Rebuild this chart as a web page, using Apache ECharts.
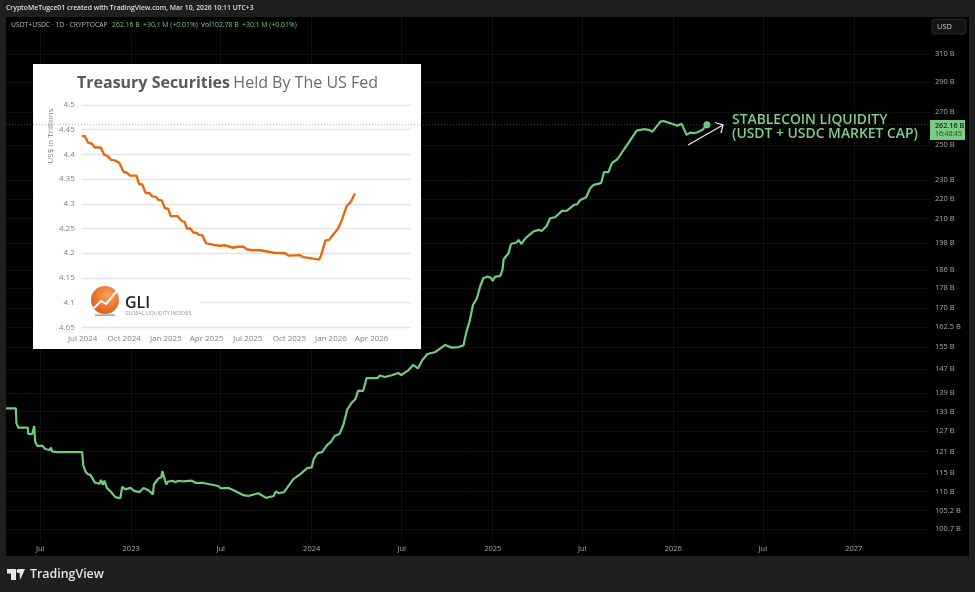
<!DOCTYPE html>
<html>
<head>
<meta charset="utf-8">
<title>Stablecoin liquidity vs Treasury securities</title>
<script src="https://cdn.jsdelivr.net/npm/echarts@6/dist/echarts.min.js"></script>
<style>
html, body { margin: 0; padding: 0; background: #1f1f1f; }
#chart { width: 975px; height: 592px; }
</style>
</head>
<body>
<div id="chart"></div>
<script>
// USDT+USDC market cap, billions
var capDates = ['2022-04-23','2022-05-13','2022-05-14','2022-05-18','2022-06-06','2022-06-07','2022-06-15','2022-06-19','2022-06-21','2022-06-25','2022-07-06','2022-07-11','2022-07-20','2022-07-23','2022-07-25','2022-08-04','2022-09-24','2022-09-26','2022-10-01','2022-10-05','2022-10-11','2022-10-20','2022-10-29','2022-11-01','2022-11-05','2022-11-08','2022-11-13','2022-11-21','2022-11-30','2022-12-03','2022-12-10','2022-12-14','2022-12-20','2022-12-31','2023-01-07','2023-01-18','2023-01-26','2023-02-05','2023-02-14','2023-02-16','2023-02-25','2023-03-03','2023-03-05','2023-03-09','2023-03-13','2023-03-17','2023-03-26','2023-03-31','2023-04-07','2023-04-17','2023-05-04','2023-05-12','2023-05-27','2023-06-26','2023-07-01','2023-07-17','2023-07-27','2023-08-16','2023-08-26','2023-09-15','2023-10-01','2023-10-16','2023-10-21','2023-10-26','2023-11-06','2023-11-25','2023-12-09','2023-12-23','2024-01-01','2024-01-05','2024-01-13','2024-01-22','2024-02-01','2024-02-09','2024-02-17','2024-02-26','2024-03-05','2024-03-13','2024-03-22','2024-03-29','2024-04-02','2024-04-04','2024-04-14','2024-04-21','2024-05-02','2024-05-05','2024-05-13','2024-05-18','2024-05-28','2024-06-11','2024-06-24','2024-06-30','2024-07-15','2024-07-24','2024-07-28','2024-08-03','2024-08-11','2024-08-22','2024-09-07','2024-09-27','2024-10-10','2024-10-24','2024-11-03','2024-11-08','2024-11-16','2024-11-22','2024-11-30','2024-12-07','2024-12-13','2024-12-20','2024-12-28','2025-01-01','2025-01-06','2025-01-16','2025-01-21','2025-01-23','2025-02-02','2025-02-07','2025-02-19','2025-02-22','2025-02-28','2025-03-08','2025-03-24','2025-04-04','2025-04-10','2025-04-20','2025-04-27','2025-05-07','2025-05-21','2025-05-31','2025-06-15','2025-06-21','2025-06-27','2025-07-09','2025-07-17','2025-07-24','2025-08-08','2025-08-14','2025-08-23','2025-08-30','2025-09-10','2025-10-02','2025-10-19','2025-11-02','2025-11-12','2025-11-20','2025-12-06','2025-12-12','2026-01-01','2026-01-09','2026-01-18','2026-01-28','2026-02-04','2026-02-10','2026-02-18','2026-03-01','2026-03-10'];
var capValues = [134.0,134.0,129.4,128.0,128.0,126.1,126.1,128.5,123.8,122.6,122.6,121.7,121.4,122.1,121.0,120.8,120.8,117.2,115.3,114.7,114.4,112.4,112.1,113.1,111.8,112.9,111.0,110.0,108.6,108.9,108.3,111.3,110.6,111.0,110.2,109.9,111.0,110.4,109.3,111.9,113.5,113.8,115.5,115.5,111.9,112.7,112.9,112.5,112.9,112.7,112.9,112.3,112.3,111.5,110.9,111.0,110.4,109.1,108.9,109.6,108.4,108.9,110.1,109.6,109.9,113.3,114.7,116.3,116.5,118.8,120.5,120.8,122.8,123.8,125.6,126.1,128.8,133.7,135.8,136.9,136.7,139.7,139.6,143.9,143.9,144.4,143.9,144.8,144.3,144.9,145.7,145.0,146.7,148.5,148.5,147.3,150.0,152.4,153.1,155.7,154.7,154.9,155.6,160.0,165.2,171.1,173.9,179.1,182.3,183.0,182.6,181.1,183.0,183.2,186.2,190.7,193.4,197.7,198.5,199.6,197.7,200.4,203.6,204.4,203.9,206.3,210.1,210.6,213.8,213.9,217.0,217.2,219.4,220.8,225.6,227.4,228.3,234.3,234.3,239.4,241.6,251.0,258.5,259.4,259.0,257.9,264.1,264.5,262.5,261.6,262.7,255.9,257.3,257.0,257.4,259.0,262.16];
var lastCap = 262.16;

var yTickValues = [100.7,105.2,110,115,121,127,133,139,147,155,162.5,170,178,186,198,210,220,230,250,270,290,310];
var xTickDates = ['2022-07-01','2023-01-01','2023-07-01','2024-01-01','2024-07-01','2025-01-01','2025-07-01','2026-01-01','2026-07-01','2027-01-01'];
var xTickLabels = ['Jul','2023','Jul','2024','Jul','2025','Jul','2026','Jul','2027'];

// Treasury securities held by the Fed, US$ trillions
var fedDates = ['2024-06-29','2024-07-06','2024-07-13','2024-07-21','2024-07-28','2024-08-10','2024-08-18','2024-08-25','2024-09-02','2024-09-10','2024-09-20','2024-09-23','2024-09-30','2024-10-05','2024-10-14','2024-10-28','2024-11-03','2024-11-10','2024-11-17','2024-11-25','2024-12-02','2024-12-10','2024-12-15','2024-12-23','2024-12-30','2025-01-06','2025-01-12','2025-01-27','2025-02-05','2025-02-11','2025-02-17','2025-02-24','2025-03-03','2025-03-10','2025-03-16','2025-03-23','2025-03-31','2025-04-12','2025-04-20','2025-05-01','2025-05-12','2025-05-30','2025-06-07','2025-06-21','2025-06-29','2025-07-10','2025-07-28','2025-08-16','2025-08-27','2025-09-22','2025-09-29','2025-10-25','2025-11-01','2025-11-16','2025-12-06','2025-12-10','2025-12-20','2025-12-28','2026-01-06','2026-01-17','2026-01-25','2026-02-05','2026-02-14','2026-02-23'];
var fedValues = [4.437,4.437,4.424,4.422,4.414,4.414,4.399,4.397,4.389,4.388,4.383,4.382,4.364,4.364,4.357,4.357,4.340,4.339,4.322,4.322,4.315,4.314,4.308,4.307,4.291,4.290,4.275,4.275,4.265,4.264,4.250,4.250,4.242,4.241,4.237,4.236,4.220,4.218,4.216,4.215,4.216,4.211,4.213,4.213,4.208,4.206,4.206,4.203,4.201,4.200,4.195,4.196,4.192,4.190,4.187,4.195,4.226,4.227,4.238,4.250,4.267,4.296,4.304,4.321];
var fedTickDates = ['2024-07-01','2024-10-01','2025-01-01','2025-04-01','2025-07-01','2025-10-01','2026-01-01','2026-04-01'];
var fedTickLabels = ['Jul 2024','Oct 2024','Jan 2025','Apr 2025','Jul 2025','Oct 2025','Jan 2026','Apr 2026'];

var GREEN = '#72cb7d';
var AXIS_TEXT = '#a8a8a8';
var INSET_TEXT = '#7f7f7f';

function toTime(s) {
    var p = s.split('-');
    return new Date(+p[0], +p[1] - 1, +p[2]).getTime();
}

function pairs(dates, values) {
    return dates.map(function (d, i) {
        return [toTime(d), values[i]];
    });
}

function labelFor(dates, labels) {
    return function (value) {
        for (var i = 0; i < dates.length; i++) {
            if (toTime(dates[i]) === value) return labels[i];
        }
        return '';
    };
}

function label(x, y, text, color, size, weight, z) {
    return {
        type: 'text', x: x, y: y, z: z || 2, silent: true,
        style: {
            text: text, fill: color, fontSize: size, fontWeight: weight || 'normal',
            fontFamily: 'Open Sans', verticalAlign: 'middle'
        }
    };
}

var chart = echarts.init(document.getElementById('chart'), null, { renderer: 'canvas' });

chart.setOption({
    animation: false,
    backgroundColor: '#1f1f1f',
    grid: [
        { left: 6, right: 46, top: 17, bottom: 51 },
        { left: 81.7, right: 564, top: 105, bottom: 264.7 }
    ],
    xAxis: [{
        // timestamps on a value axis, time axis chokes on customValues
        type: 'value',
        gridIndex: 0,
        min: toTime('2022-04-23'),
        max: toTime('2027-06-02'),
        z: 1,
        axisLine: { show: false },
        axisTick: { show: false, customValues: xTickDates.map(toTime) },
        axisLabel: {
            customValues: xTickDates.map(toTime),
            formatter: labelFor(xTickDates, xTickLabels),
            color: AXIS_TEXT, fontSize: 7.5, fontFamily: 'Open Sans', margin: 4,
            hideOverlap: false
        },
        splitLine: { show: true, lineStyle: { color: '#101010', width: 1 } }
    }, {
        type: 'value',
        gridIndex: 1,
        min: toTime('2024-06-29'),
        max: toTime('2026-06-27'),
        z: 10,
        axisLine: { show: false },
        axisTick: { show: false },
        axisLabel: {
            customValues: fedTickDates.map(toTime),
            formatter: labelFor(fedTickDates, fedTickLabels),
            color: INSET_TEXT, fontSize: 8, fontFamily: 'Open Sans', margin: 7,
            hideOverlap: false
        },
        splitLine: { show: false }
    }],
    yAxis: [{
        type: 'log',
        gridIndex: 0,
        position: 'right',
        min: 97.89,
        max: 338.3,
        z: 1,
        axisLine: { show: false },
        axisTick: { show: false, customValues: yTickValues },
        axisLabel: {
            customValues: yTickValues,
            formatter: function (v) { return v + ' B'; },
            color: AXIS_TEXT, fontSize: 7.5, fontFamily: 'Open Sans', margin: 6
        },
        splitLine: { show: true, lineStyle: { color: '#101010', width: 1 } }
    }, {
        type: 'value',
        gridIndex: 1,
        min: 4.05,
        max: 4.5,
        interval: 0.05,
        z: 10,
        axisLine: { show: false },
        axisTick: { show: false },
        axisLabel: {
            formatter: function (v) { return String(+v.toFixed(2)); },
            color: INSET_TEXT, fontSize: 8, fontFamily: 'Open Sans', margin: 7
        },
        splitLine: { show: true, lineStyle: { color: '#e4e4e4', width: 1.3 } }
    }],
    series: [{
        name: 'USDT+USDC',
        type: 'line',
        xAxisIndex: 0,
        yAxisIndex: 0,
        z: 3,
        symbol: 'none',
        lineStyle: { color: GREEN, width: 2.2 },
        data: pairs(capDates, capValues),
        markPoint: {
            symbol: 'circle',
            symbolSize: 7,
            silent: true,
            label: { show: false },
            itemStyle: { color: GREEN },
            data: [{ coord: [toTime(capDates[capDates.length - 1]), lastCap] }]
        }
    }, {
        name: 'Last price',
        type: 'line',
        xAxisIndex: 0,
        yAxisIndex: 0,
        z: 12,
        symbol: 'none',
        lineStyle: { color: '#4e8f56', width: 0.8, type: [1, 2], opacity: 0.7 },
        data: [[toTime('2022-04-23'), lastCap], [toTime('2027-06-02'), lastCap]]
    }, {
        name: 'Treasury securities',
        type: 'line',
        xAxisIndex: 1,
        yAxisIndex: 1,
        z: 11,
        symbol: 'none',
        lineStyle: { color: '#e8690c', width: 2.4 },
        data: pairs(fedDates, fedValues)
    }],
    graphic: [
        // plot background, white panel for the inset
        { type: 'rect', z: -10, silent: true, shape: { x: 6, y: 17, width: 963, height: 539 }, style: { fill: '#000' } },
        { type: 'rect', z: 5, silent: true, shape: { x: 33, y: 64, width: 388, height: 285 }, style: { fill: '#fff' } },

        // header and legend line
        label(6, 8.5, 'CryptoMeTugce01 created with TradingView.com, Mar 10, 2026 10:11 UTC+3', '#dcdcdc', 6.8, 600),
        label(11, 25, 'USDT+USDC · 1D · CRYPTOCAP', '#b8b8b8', 6.8),
        label(112, 25, '262.16 B', GREEN, 6.9),
        label(143, 25, '+30.1 M (+0.01%)', GREEN, 6.9),
        label(201, 25, 'Vol', '#b8b8b8', 6.9),
        label(211, 25, '102.78 B', GREEN, 6.9),
        label(242, 25, '+30.1 M (+0.01%)', GREEN, 6.9),

        // USD box
        { type: 'rect', z: 2, silent: true, shape: { x: 932, y: 19, width: 34, height: 15, r: 3 }, style: { fill: '#141414', stroke: '#2a2a2a', lineWidth: 1 } },
        label(937, 26.5, 'USD', '#d0d0d0', 7.4),

        // last price tag
        { type: 'rect', z: 13, silent: true, shape: { x: 930, y: 120, width: 35, height: 20 }, style: { fill: '#7ccb85' } },
        label(935, 126, '262.16 B', '#0c2a10', 7.2, 600, 14),
        label(935, 134.5, '16:48:45', '#1d4a24', 6.8, 'normal', 14),

        // annotation
        label(732, 120, 'STABLECOIN LIQUIDITY', '#7fce88', 13.9, 600, 14),
        label(732, 134, '(USDT + USDC MARKET CAP)', '#7fce88', 13.9, 600, 14),
        { type: 'polyline', z: 14, silent: true, shape: { points: [[688, 145], [723, 125]] }, style: { stroke: '#e8e8e8', lineWidth: 1.3, fill: null } },
        { type: 'polyline', z: 14, silent: true, shape: { points: [[715, 122.5], [723, 125], [721, 133]] }, style: { stroke: '#e8e8e8', lineWidth: 1.3, fill: null } },

        // inset title and y axis name
        {
            type: 'text', z: 14, silent: true, x: 227.5, y: 83,
            style: {
                text: '{b|Treasury Securities} {r|Held By The US Fed}',
                align: 'center', verticalAlign: 'middle',
                rich: {
                    b: { fontFamily: 'Open Sans', fontSize: 16, fontWeight: 'bold', fill: '#595959' },
                    r: { fontFamily: 'Open Sans', fontSize: 16, fill: '#6b6b6b' }
                }
            }
        },
        {
            type: 'text', z: 14, silent: true, x: 51, y: 136, rotation: Math.PI / 2,
            style: { text: 'US$ in Trillions', fill: INSET_TEXT, fontSize: 8, fontFamily: 'Open Sans', align: 'center', verticalAlign: 'middle' }
        },

        // GLI logo
        { type: 'rect', z: 14, silent: true, shape: { x: 82, y: 283, width: 118, height: 34 }, style: { fill: '#fff' } },
        {
            type: 'circle', z: 15, silent: true, shape: { cx: 105, cy: 300, r: 14 },
            style: { fill: new echarts.graphic.RadialGradient(0.6, 0.35, 0.8, [{ offset: 0, color: '#f9a45c' }, { offset: 1, color: '#d9500c' }]) }
        },
        { type: 'polyline', z: 16, silent: true, shape: { points: [[94, 308], [101, 301], [106, 304], [117, 291]] }, style: { stroke: '#fff', lineWidth: 2, fill: null } },
        { type: 'rect', z: 15, silent: true, shape: { x: 95, y: 314.5, width: 20, height: 1.2 }, style: { fill: '#888' } },
        label(125, 303, 'GLI', '#222', 16, 600, 15),
        label(125, 313.5, 'GLOBAL LIQUIDITY INDEXES', '#9a9a9a', 5.1, 'normal', 15),

        // TradingView footer
        { type: 'polygon', z: 2, silent: true, shape: { points: [[7, 569], [16, 569], [16, 580], [11, 580], [11, 573.5], [7, 573.5]] }, style: { fill: '#e8e8e8' } },
        { type: 'circle', z: 2, silent: true, shape: { cx: 18.5, cy: 571, r: 2 }, style: { fill: '#e8e8e8' } },
        { type: 'polygon', z: 2, silent: true, shape: { points: [[20, 580], [25, 569], [19.5, 569]] }, style: { fill: '#e8e8e8' } },
        label(30, 574.5, 'TradingView', '#e4e4e4', 12.4, 600)
    ]
});
</script>
</body>
</html>
